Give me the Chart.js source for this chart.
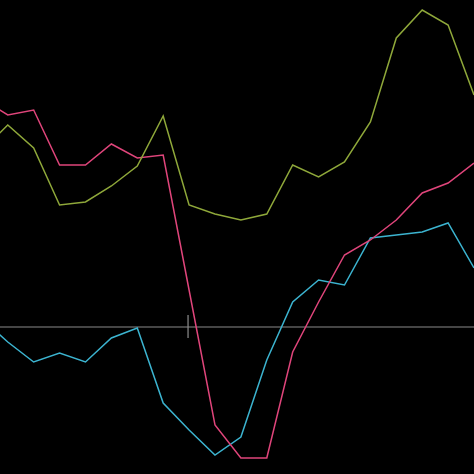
<!DOCTYPE html>
<html>
<head>
<script src="https://cdn.jsdelivr.net/npm/chart.js@4"></script>
<style>
html, body { margin: 0; padding: 0; background: #000; }
#wrap { width: 474px; height: 474px; }
</style>
</head>
<body>
<div id="wrap"><canvas id="myChart"></canvas></div>
<script>
// values are heights from the bottom of the plot, first point lies just left of the view
const green = [323, 349, 326, 269, 272, 288, 308, 358, 269, 260, 254, 260, 309, 297, 312, 352, 436, 464, 449, 379];
const pink = [375, 359, 364, 309, 309, 330, 316, 319, 184, 49, 16, 16, 122, 172, 219, 234, 254, 281, 291, 311];
const cyan = [155, 132, 112, 121, 112, 136, 146, 71, 44, 19, 37, 114, 172, 194, 189, 236, 239, 242, 251, 206];
const baseline = 147;

const pts = arr => arr.map((v, i) => ({ x: i - 1, y: v }));

const ctx = document.getElementById("myChart").getContext("2d");

const config = {
    type: 'line',
    data: {
        datasets: [
            { data: pts(green), borderColor: '#8fa83a' },
            { data: pts(pink), borderColor: '#e0457b' },
            { data: pts(cyan), borderColor: '#3cb4d0' },
            { data: [{ x: -1, y: baseline }, { x: 19, y: baseline }], borderColor: '#8a8a8a', borderWidth: 1 },
            { data: [{ x: 6.96, y: 136 }, { x: 6.96, y: 159 }], borderColor: '#aaaaaa', borderWidth: 1 },
        ]
    },
    options: {
        responsive: true,
        maintainAspectRatio: false,
        animation: false,
        layout: { padding: 0 },
        elements: { point: { radius: 0 }, line: { borderWidth: 1.5, tension: 0 } },
        plugins: { legend: { display: false }, tooltip: { enabled: false } },
        scales: {
            x: { type: 'linear', min: -0.3, max: 18, display: false },
            y: { min: 0, max: 474, display: false }
        }
    }
};

const myChart = new Chart(ctx, config);
</script>
</body>
</html>
